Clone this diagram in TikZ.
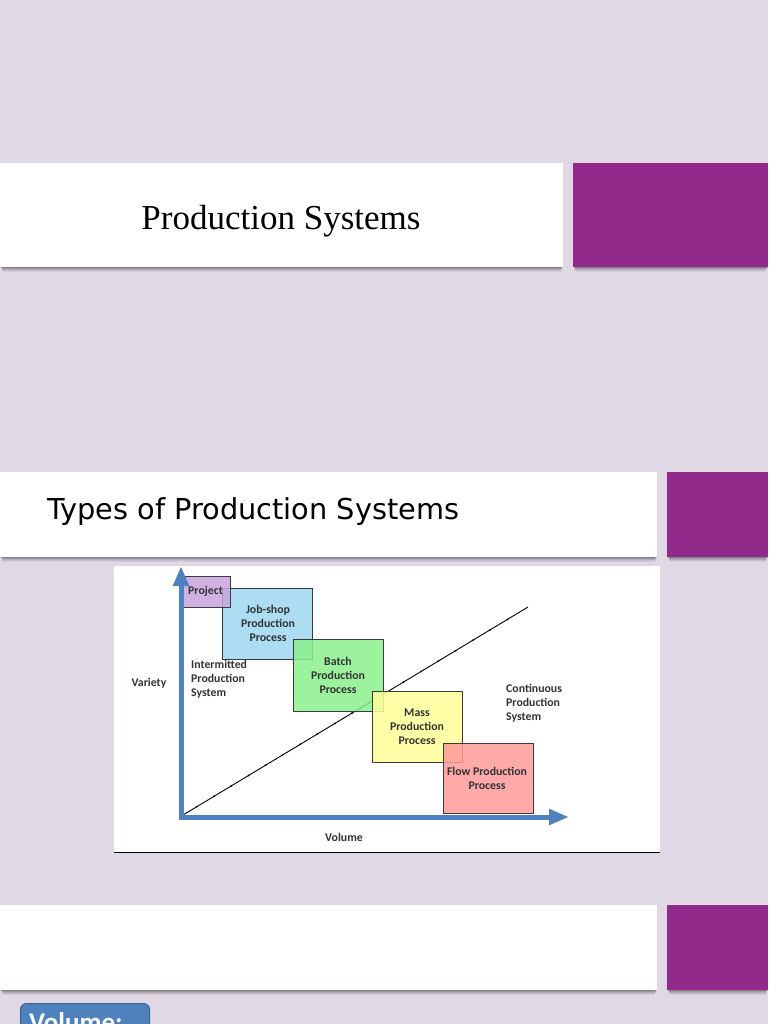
\documentclass[tikz,border=0pt]{standalone}
\usepackage{fontspec}
\setmainfont{Liberation Serif}
\newfontfamily\dejafont{DejaVu Sans}
\newfontfamily\carlfont{Carlito}
\usetikzlibrary{arrows.meta,calc}
\definecolor{bgc}{HTML}{E0D9E5}
\definecolor{purp}{HTML}{912A8B}
\definecolor{axblue}{HTML}{4F81BD}
\definecolor{projc}{HTML}{C8A4DC}
\definecolor{jobc}{HTML}{9ED8F2}
\definecolor{batchc}{HTML}{8CF08C}
\definecolor{massc}{HTML}{FFFF99}
\definecolor{flowc}{HTML}{FF9A9A}
\definecolor{boxedge}{HTML}{3A3A3A}
\tikzset{
  band/.style={fill=white, draw=none},
  purpblock/.style={fill=purp, draw=none},
  procbox/.style={draw=boxedge, line width=0.8pt, fill opacity=0.85, text opacity=1, inner sep=0pt, anchor=north west},
  chartlbl/.style={font=\carlfont\bfseries\fontsize{11.8}{14}\selectfont, text=black!80, align=center, inner sep=0pt},
  axis/.style={draw=axblue, line width=5pt, -{Triangle[length=20pt,width=15pt]}},
}
\newcommand{\shadowbox}[4]{% x1 y1 x2 y2
  \foreach \o/\a in {5/0.05,4/0.07,3/0.09,2/0.12,1/0.15}{
    \fill[black, opacity=\a] (#1+\o*0.6,#2+\o*0.8) rectangle (#3-\o*0.4,#4+\o*0.9);
  }
}
\begin{document}
\begin{tikzpicture}[x=1pt,y=-1pt]
\useasboundingbox (0,0) rectangle (768,1024);
\clip (0,0) rectangle (768,1024);
\fill[bgc] (0,0) rectangle (768,1024);

% band 1
\shadowbox{0}{163}{563}{267}
\shadowbox{573}{163}{768}{267}
\fill[band] (0,163) rectangle (563,267);
\fill[purpblock] (573,163) rectangle (768,267);
\node[font=\fontsize{35}{40}\selectfont, text=black] (t1) at (281,221) {Production Systems};

% band 2
\shadowbox{0}{472}{657}{557}
\shadowbox{667}{472}{768}{557}
\fill[band] (0,472) rectangle (657,557);
\fill[purpblock] (667,472) rectangle (768,557);
\node[font=\dejafont\fontsize{28.8}{32}\selectfont, anchor=west, text=black, inner sep=0pt] (t2) at (47,512) {Types of Production Systems};

% chart
\fill[white] (114,566) rectangle (660,852);
\draw[black, line width=1pt] (114,852) -- (660,852);

\coordinate (orig) at (181,817);
\coordinate (ytop) at (181,566);
\coordinate (xend) at (569,817);
\coordinate (dstart) at (183,815);
\coordinate (dend) at (528,607);
\draw[black, line width=0.9pt] (dstart) -- (dend);
\foreach \t in {0.04,0.09,...,0.99}{ \fill[black] ($(dstart)!\t!(dend)$) circle (1pt); }

\node[procbox, fill=jobc, minimum width=90pt, minimum height=71pt] (job) at (222,588) {};
\node[procbox, fill=projc, minimum width=48pt, minimum height=31pt] (proj) at (182,576) {};
\node[procbox, fill=batchc, minimum width=90pt, minimum height=72pt] (batch) at (293,639) {};
\node[procbox, fill=massc, minimum width=90pt, minimum height=71pt] (mass) at (372,691) {};
\node[procbox, fill=flowc, minimum width=90pt, minimum height=70pt] (flow) at (443,743) {};

\draw[axis] (orig) -- (ytop);
\draw[axis] ([xshift=-2.5pt]orig) -- (xend);

\node[chartlbl, anchor=north west] (projt) at ([xshift=6pt,yshift=-10pt]proj.north west) {Project};
\node[chartlbl] (jobt) at (268,623) {Job-shop\\Production\\Process};
\node[chartlbl] (batcht) at (338,675) {Batch\\Production\\Process};
\node[chartlbl] (masst) at (417,727) {Mass\\Production\\Process};
\node[chartlbl] (flowt) at (487,778) {Flow Production\\Process};
\node[chartlbl, align=left, anchor=west] (inter) at (191,679) {Intermitted\\Production\\System};
\node[chartlbl, align=left, anchor=west] (cont) at (506,703) {Continuous\\Production\\System};
\node[chartlbl] (var) at (149,683) {Variety};
\node[chartlbl] (vol) at (344,837) {Volume};

% band 3
\shadowbox{0}{905}{657}{990}
\shadowbox{667}{905}{768}{990}
\fill[band] (0,905) rectangle (657,990);
\fill[purpblock] (667,905) rectangle (768,990);

% button
\node[draw=axblue!75!black, fill=axblue, rounded corners=6pt, line width=1pt, anchor=north west, minimum width=129pt, minimum height=44pt, inner sep=0pt] (btn) at (20,1003) {};
\node[font=\carlfont\bfseries\fontsize{27}{30}\selectfont, text=white, anchor=north west, inner sep=0pt] (btnt) at (29,1012) {Volume:};
\end{tikzpicture}
\end{document}
